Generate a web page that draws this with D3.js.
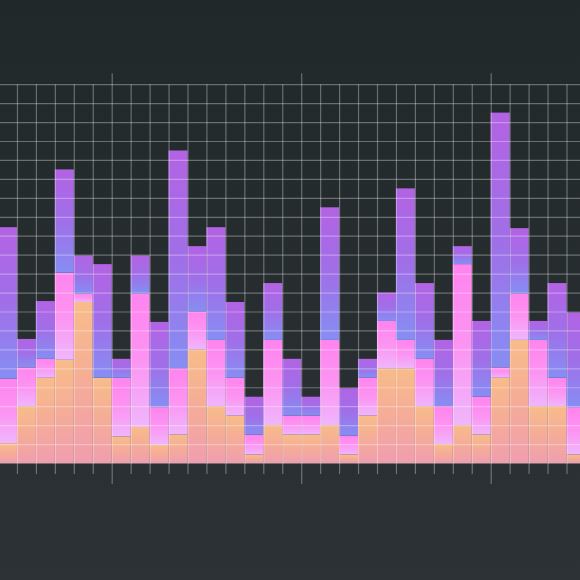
<!DOCTYPE html>
<html>
<head>
<meta charset="utf-8">
<script src="https://cdn.jsdelivr.net/npm/d3@7"></script>
<style>
  html, body { margin: 0; padding: 0; background: #262c2f; }
  svg { display: block; }
</style>
</head>
<body>
<svg id="chart" width="580" height="580"></svg>
<script>
// one slot per bar, left to right
var slots = d3.range(31);

// stacked values (one grid row = 1)
var peach  = [1.05, 3.0, 4.5, 5.45, 8.5, 4.5, 1.4, 1.9, 0.95, 1.5, 6.0, 3.0, 2.5, 0.45, 2.0, 1.5,
              1.5, 2.0, 0.45, 2.5, 5.0, 5.0, 3.0, 1.0, 2.0, 1.5, 4.5, 6.5, 3.0, 3.0, 0.45];
var pink   = [3.4, 2.05, 1.0, 4.6, 0.45, 0, 3.1, 7.05, 2.0, 3.5, 2.0, 3.5, 2.0, 1.05, 4.5, 1.0,
              1.0, 4.5, 1.0, 2.0, 2.5, 1.5, 2.5, 2.0, 8.5, 2.0, 0.55, 2.45, 3.5, 1.5, 2.5];
var purple = [8.0, 1.5, 3.05, 5.45, 2.0, 6.0, 1.0, 2.0, 4.5, 11.5, 3.45, 5.95, 4.0, 2.0, 3.0, 3.0,
              1.0, 7.0, 2.5, 1.0, 1.5, 8.0, 4.0, 3.5, 0.95, 4.0, 13.45, 3.45, 1.0, 5.0, 5.0];

var seriesKeys = ['peach', 'pink', 'purple'];
var majorTicks = [6, 16, 26];

var svg = d3.select('#chart'),
    width = +svg.attr('width'),
    height = +svg.attr('height'),
    bw = 18.95,
    x0 = -2.0,
    plotTop = 84.2,
    base = 463;

var defs = svg.append('defs');

var bg = defs.append('linearGradient')
    .attr('id', 'bg')
    .attr('x1', 0).attr('y1', 0).attr('x2', 0).attr('y2', 1);
bg.append('stop').attr('offset', '0%').attr('stop-color', '#21282a');
bg.append('stop').attr('offset', '100%').attr('stop-color', '#2c3235');

// top, middle, bottom colour of each segment
var grads = {
    peach:  ['#f8bc8a', '#f5ac98', '#f09eae'],
    pink:   ['#ff84ee', '#fc94f2', '#efb6fc'],
    purple: ['#b263e4', '#a06fe8', '#868ef3']
};
seriesKeys.forEach(function (k) {
    var g = defs.append('linearGradient')
        .attr('id', 'g-' + k)
        .attr('x1', 0).attr('y1', 0).attr('x2', 0).attr('y2', 1);
    g.append('stop').attr('offset', '0%').attr('stop-color', grads[k][0]);
    g.append('stop').attr('offset', '50%').attr('stop-color', grads[k][1]);
    g.append('stop').attr('offset', '100%').attr('stop-color', grads[k][2]);
});

svg.append('rect')
    .attr('width', width)
    .attr('height', height)
    .attr('fill', 'url(#bg)');

var data = slots.map(function (i) {
    return {slot: i, peach: peach[i], pink: pink[i], purple: purple[i]};
});

var stacked = d3.stack().keys(seriesKeys)(data);

var xScale = d3.scaleLinear()
    .domain([0, slots.length])
    .range([x0, x0 + slots.length * bw]);

var yScale = d3.scaleLinear()
    .domain([0, 20])
    .range([base, plotTop]);

// bars
svg.append('g').selectAll('g')
    .data(stacked)
    .enter().append('g')
    .attr('fill', d => 'url(#g-' + d.key + ')')
    .selectAll('rect')
    .data(d => d)
    .enter().append('rect')
    .attr('x', d => xScale(d.data.slot))
    .attr('width', d => xScale(d.data.slot + 1) - xScale(d.data.slot))
    .attr('y', d => yScale(d[1]))
    .attr('height', d => yScale(d[0]) - yScale(d[1]));

// grid on top of the bars
var gridColor = 'rgba(255,255,255,0.32)';

var hGrid = svg.append('g')
    .call(d3.axisLeft(yScale).tickValues(d3.range(0, 21)).tickSize(-width).tickFormat(''));
hGrid.select('.domain').remove();
hGrid.selectAll('line').attr('stroke', gridColor).attr('stroke-width', 1.2);

var minorTicks = d3.range(1, slots.length).filter(v => majorTicks.indexOf(v) < 0);

var vMinor = svg.append('g')
    .attr('transform', 'translate(0,' + (base + 11) + ')')
    .call(d3.axisBottom(xScale).tickValues(minorTicks).tickSize(-(base + 11 - plotTop)).tickFormat(''));
vMinor.select('.domain').remove();
vMinor.selectAll('line').attr('stroke', gridColor).attr('stroke-width', 1.2);

var vMajor = svg.append('g')
    .attr('transform', 'translate(0,' + (base + 21) + ')')
    .call(d3.axisBottom(xScale).tickValues(majorTicks).tickSize(-(base + 21 - plotTop + 11)).tickFormat(''));
vMajor.select('.domain').remove();
vMajor.selectAll('line').attr('stroke', gridColor).attr('stroke-width', 1.2);
</script>
</body>
</html>
